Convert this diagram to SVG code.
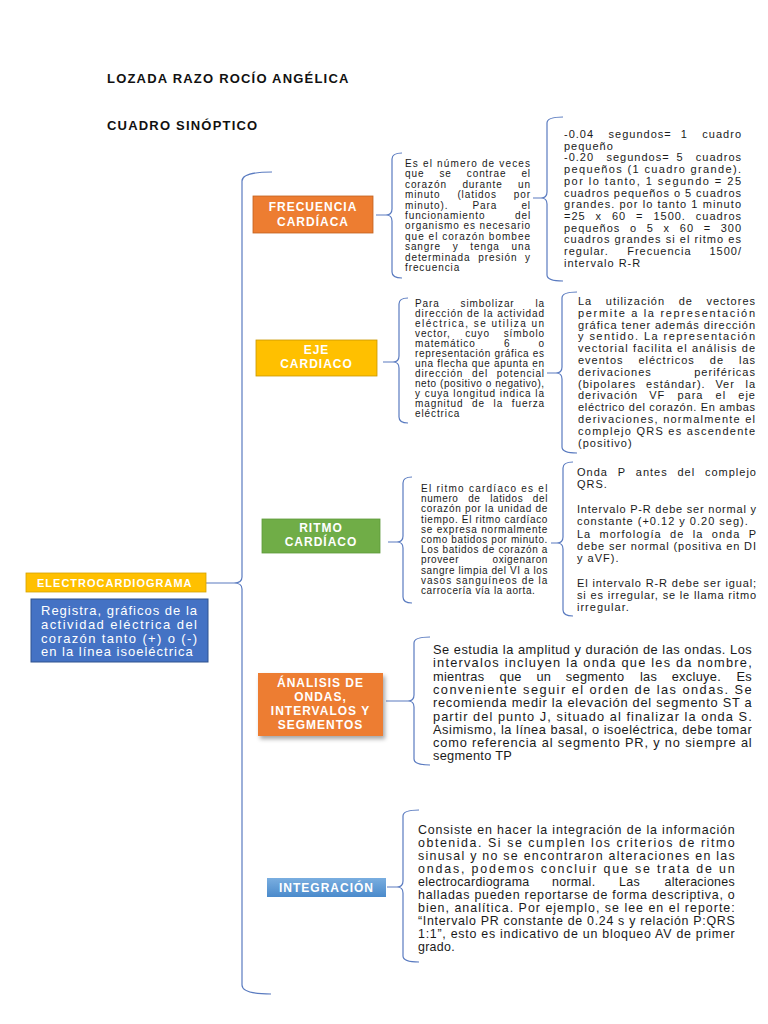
<svg xmlns="http://www.w3.org/2000/svg" width="768" height="1024" viewBox="0 0 768 1024">
<defs>
<linearGradient id="gInt" x1="0" y1="0" x2="0" y2="1">
<stop offset="0" stop-color="#7AAEE0"/>
<stop offset="1" stop-color="#4A8ACB"/>
</linearGradient>
<filter id="shadow" x="-10%" y="-10%" width="130%" height="140%">
<feDropShadow dx="2" dy="3" stdDeviation="2" flood-color="#000" flood-opacity="0.35"/>
</filter>
<style>
text{font-family:"Liberation Sans",Arial,sans-serif;fill:#1a1a1a}
.title{font-size:13px;font-weight:bold;letter-spacing:1.2px;fill:#111}
.cat{font-size:12px;font-weight:bold;letter-spacing:1px;fill:#fff;text-anchor:middle}
.ecg{font-size:11px;font-weight:bold;letter-spacing:1px;fill:#fff}
.bdesc{font-size:13px;letter-spacing:1px;fill:#fff}
.s10{font-size:10px;letter-spacing:0.9px}
.s10b{font-size:10px;letter-spacing:0.6px}
.s11{font-size:11px;letter-spacing:1px}
.s13{font-size:12.8px;letter-spacing:0.3px}
.s13b{font-size:12.4px;letter-spacing:0.3px}
.e{text-anchor:end}
.br{fill:none;stroke:#5A7BC0;stroke-width:1.2}
</style>
</defs>
<rect width="768" height="1024" fill="#fff"/>

<g id="titles">
<text class="title" x="107" y="83">LOZADA RAZO ROCÍO ANGÉLICA</text>
<text class="title" x="107" y="130">CUADRO SINÓPTICO</text>
</g>

<g id="connectors">
<path class="br" d="M272,172 Q242,172 242,181 V577 Q242,583 234,583 H206 M234,583 Q242,583 242,589 V985 Q242,994 271,994"/>
<path class="br" d="M402,153 Q392,153 392,159 V209 Q392,215 386,215 H376 M386,215 Q392,215 392,221 V272 Q392,278 402,278"/>
<path class="br" d="M563,117 Q547,117 547,123 V192 Q547,198 541,198 H533 M541,198 Q547,198 547,204 V275 Q547,281 563,281"/>
<path class="br" d="M408,298 Q399,298 399,304 V356 Q399,362 393,362 H383 M393,362 Q399,362 399,368 V417 Q399,423 408,423"/>
<path class="br" d="M577,292 Q562,292 562,298 V367 Q562,373 556,373 H547 M556,373 Q562,373 562,379 V447 Q562,453 577,453"/>
<path class="br" d="M412,477 Q403,477 403,483 V536 Q403,542 397,542 H388 M397,542 Q403,542 403,548 V597 Q403,603 412,603"/>
<path class="br" d="M573,462 Q563,462 563,468 V537 Q563,543 557,543 H551 M557,543 Q563,543 563,549 V610 Q563,616 573,616"/>
<path class="br" d="M430,637 Q414,637 414,643 V695 Q414,701 408,701 H386 M408,701 Q414,701 414,707 V759 Q414,765 430,765"/>
<path class="br" d="M419,810 Q403,810 403,816 V881 Q403,887 397,887 H387 M397,887 Q403,887 403,893 V956 Q403,962 419,962"/>
</g>

<g id="node-electrocardiograma">
<rect x="26" y="573" width="180" height="19" fill="#FFC000" stroke="#D4A200" stroke-width="0.8"/>
<text class="ecg" x="37" y="587">ELECTROCARDIOGRAMA</text>
</g>

<g id="node-registra">
<rect x="31" y="599" width="177" height="63" fill="#4472C4" stroke="#2F528F" stroke-width="1"/>
<text class="bdesc" x="41" y="615" textLength="157" lengthAdjust="spacing">Registra, gráficos de la</text>
<text class="bdesc" x="41" y="628.8" textLength="157" lengthAdjust="spacing">actividad eléctrica del</text>
<text class="bdesc" x="41" y="642.6" textLength="157" lengthAdjust="spacing">corazón tanto (+) o (-)</text>
<text class="bdesc" x="41" y="656.4">en la línea isoeléctrica</text>
</g>

<g id="node-frecuencia">
<rect x="253" y="196" width="120" height="37" fill="#ED7D31" stroke="#C0601F" stroke-width="0.8"/>
<text class="cat" x="313" y="211">FRECUENCIA</text>
<text class="cat" x="313" y="225.5">CARDÍACA</text>
</g>

<g id="node-frecuencia-def">
<text class="s10" x="405" y="167" textLength="126" lengthAdjust="spacing">Es el número de veces</text>
<text class="s10" x="405" y="177.4">que</text><text class="s10" x="439.4" y="177.4">se</text><text class="s10" x="466.8" y="177.4">contrae</text><text class="s10 e" x="531" y="177.4">el</text>
<text class="s10" x="405" y="187.8">corazón</text><text class="s10" x="462.4" y="187.8">durante</text><text class="s10 e" x="531" y="187.8">un</text>
<text class="s10" x="405" y="198.2">minuto</text><text class="s10" x="457.4" y="198.2">(latidos</text><text class="s10 e" x="531" y="198.2">por</text>
<text class="s10" x="405" y="208.6">minuto).</text><text class="s10" x="472.5" y="208.6">Para</text><text class="s10 e" x="531" y="208.6">el</text>
<text class="s10" x="405" y="219">funcionamiento</text><text class="s10 e" x="531" y="219">del</text>
<text class="s10" x="405" y="229.4" textLength="126" lengthAdjust="spacing">organismo es necesario</text>
<text class="s10" x="405" y="239.8" textLength="126" lengthAdjust="spacing">que el corazón bombee</text>
<text class="s10" x="405" y="250.2">sangre</text><text class="s10" x="452.7" y="250.2">y</text><text class="s10" x="470.3" y="250.2">tenga</text><text class="s10 e" x="531" y="250.2">una</text>
<text class="s10" x="405" y="260.6">determinada</text><text class="s10" x="478.3" y="260.6">presión</text><text class="s10 e" x="531" y="260.6">y</text>
<text class="s10" x="405" y="271">frecuencia</text>
</g>

<g id="node-frecuencia-calc">
<text class="s11" x="564" y="138">-0.04</text><text class="s11" x="608.6" y="138">segundos=</text><text class="s11" x="680.7" y="138">1</text><text class="s11 e" x="742" y="138">cuadro</text>
<text class="s11" x="564" y="149.7">pequeño</text>
<text class="s11" x="564" y="161.4">-0.20</text><text class="s11" x="606.5" y="161.4">segundos=</text><text class="s11" x="676.5" y="161.4">5</text><text class="s11 e" x="742" y="161.4">cuadros</text>
<text class="s11" x="564" y="173.1" textLength="178" lengthAdjust="spacing">pequeños (1 cuadro grande).</text>
<text class="s11" x="564" y="184.8" textLength="178" lengthAdjust="spacing">por lo tanto, 1 segundo = 25</text>
<text class="s11" x="564" y="196.5" textLength="178" lengthAdjust="spacing">cuadros pequeños o 5 cuadros</text>
<text class="s11" x="564" y="208.2" textLength="178" lengthAdjust="spacing">grandes. por lo tanto 1 minuto</text>
<text class="s11" x="564" y="219.9">=25</text><text class="s11" x="595.6" y="219.9">x</text><text class="s11" x="612" y="219.9">60</text><text class="s11" x="636.1" y="219.9">=</text><text class="s11" x="653.4" y="219.9">1500.</text><text class="s11 e" x="742" y="219.9">cuadros</text>
<text class="s11" x="564" y="231.6">pequeños</text><text class="s11" x="630" y="231.6">o</text><text class="s11" x="646.8" y="231.6">5</text><text class="s11" x="663.6" y="231.6">x</text><text class="s11" x="679.8" y="231.6">60</text><text class="s11" x="703.7" y="231.6">=</text><text class="s11 e" x="742" y="231.6">300</text>
<text class="s11" x="564" y="243.3" textLength="178" lengthAdjust="spacing">cuadros grandes si el ritmo es</text>
<text class="s11" x="564" y="255">regular.</text><text class="s11" x="627.2" y="255">Frecuencia</text><text class="s11 e" x="742" y="255">1500/</text>
<text class="s11" x="564" y="266.7">intervalo R-R</text>
</g>

<g id="node-eje">
<rect x="256" y="340" width="121" height="36" fill="#FFC000" stroke="#C99700" stroke-width="0.8"/>
<text class="cat" x="316.5" y="353.5">EJE</text>
<text class="cat" x="316.5" y="367.5">CARDIACO</text>
</g>

<g id="node-eje-def">
<text class="s10" x="415" y="307">Para</text><text class="s10" x="460.6" y="307">simbolizar</text><text class="s10 e" x="545" y="307">la</text>
<text class="s10" x="415" y="317" textLength="130" lengthAdjust="spacing">dirección de la actividad</text>
<text class="s10" x="415" y="327" textLength="130" lengthAdjust="spacing">eléctrica, se utiliza un</text>
<text class="s10" x="415" y="337">vector,</text><text class="s10" x="465.2" y="337">cuyo</text><text class="s10 e" x="545" y="337">símbolo</text>
<text class="s10" x="415" y="347">matemático</text><text class="s10" x="503.9" y="347">6</text><text class="s10 e" x="545" y="347">o</text>
<text class="s10" x="415" y="357" textLength="130" lengthAdjust="spacing">representación gráfica es</text>
<text class="s10" x="415" y="367" textLength="130" lengthAdjust="spacing">una flecha que apunta en</text>
<text class="s10" x="415" y="377">dirección</text><text class="s10" x="472" y="377">del</text><text class="s10 e" x="545" y="377">potencial</text>
<text class="s10" x="415" y="387" textLength="130" lengthAdjust="spacing">neto (positivo o negativo),</text>
<text class="s10" x="415" y="397" textLength="130" lengthAdjust="spacing">y cuya longitud indica la</text>
<text class="s10" x="415" y="407">magnitud</text><text class="s10" x="472" y="407">de</text><text class="s10" x="493.6" y="407">la</text><text class="s10 e" x="545" y="407">fuerza</text>
<text class="s10" x="415" y="417">eléctrica</text>
</g>

<g id="node-eje-vectores">
<text class="s11" x="578" y="305">La</text><text class="s11" x="605.8" y="305">utilización</text><text class="s11" x="678.7" y="305">de</text><text class="s11 e" x="756" y="305">vectores</text>
<text class="s11" x="578" y="316.8" textLength="178" lengthAdjust="spacing">permite a la representación</text>
<text class="s11" x="578" y="328.6" textLength="178" lengthAdjust="spacing">gráfica tener además dirección</text>
<text class="s11" x="578" y="340.4" textLength="178" lengthAdjust="spacing">y sentido. La representación</text>
<text class="s11" x="578" y="352.2" textLength="178" lengthAdjust="spacing">vectorial facilita el análisis de</text>
<text class="s11" x="578" y="364">eventos</text><text class="s11" x="638.4" y="364">eléctricos</text><text class="s11" x="709.8" y="364">de</text><text class="s11 e" x="756" y="364">las</text>
<text class="s11" x="578" y="375.8">derivaciones</text><text class="s11 e" x="756" y="375.8">periféricas</text>
<text class="s11" x="578" y="387.6">(bipolares</text><text class="s11" x="646.1" y="387.6">estándar).</text><text class="s11" x="715.4" y="387.6">Ver</text><text class="s11 e" x="756" y="387.6">la</text>
<text class="s11" x="578" y="399.4">derivación</text><text class="s11" x="649.2" y="399.4">VF</text><text class="s11" x="677.4" y="399.4">para</text><text class="s11" x="715.6" y="399.4">el</text><text class="s11 e" x="756" y="399.4">eje</text>
<text class="s11" x="578" y="411.2" textLength="178" lengthAdjust="spacing">eléctrico del corazón. En ambas</text>
<text class="s11" x="578" y="423" textLength="178" lengthAdjust="spacing">derivaciones, normalmente el</text>
<text class="s11" x="578" y="434.8" textLength="178" lengthAdjust="spacing">complejo QRS es ascendente</text>
<text class="s11" x="578" y="446.6">(positivo)</text>
</g>

<g id="node-ritmo">
<rect x="262" y="519" width="118" height="34" fill="#70AD47" stroke="#5E9A3A" stroke-width="0.8"/>
<text class="cat" x="321" y="532">RITMO</text>
<text class="cat" x="321" y="546">CARDÍACO</text>
</g>

<g id="node-ritmo-def">
<text class="s10b" x="421" y="492" textLength="127" lengthAdjust="spacing">El ritmo cardíaco es el</text>
<text class="s10b" x="421" y="502.2">numero</text><text class="s10b" x="468.2" y="502.2">de</text><text class="s10b" x="490.2" y="502.2">latidos</text><text class="s10b e" x="548" y="502.2">del</text>
<text class="s10b" x="421" y="512.4" textLength="127" lengthAdjust="spacing">corazón por la unidad de</text>
<text class="s10b" x="421" y="522.6" textLength="127" lengthAdjust="spacing">tiempo. El ritmo cardíaco</text>
<text class="s10b" x="421" y="532.8" textLength="127" lengthAdjust="spacing">se expresa normalmente</text>
<text class="s10b" x="421" y="543" textLength="127" lengthAdjust="spacing">como batidos por minuto.</text>
<text class="s10b" x="421" y="553.2" textLength="127" lengthAdjust="spacing">Los batidos de corazón a</text>
<text class="s10b" x="421" y="563.4">proveer</text><text class="s10b e" x="548" y="563.4">oxigenaron</text>
<text class="s10b" x="421" y="573.6" textLength="127" lengthAdjust="spacing">sangre limpia del VI a los</text>
<text class="s10b" x="421" y="583.8" textLength="127" lengthAdjust="spacing">vasos sanguíneos de la</text>
<text class="s10b" x="421" y="594">carrocería vía la aorta.</text>
</g>

<g id="node-ritmo-criterios">
<text class="s11" x="577" y="476">Onda</text><text class="s11" x="617.7" y="476">P</text><text class="s11" x="635.8" y="476">antes</text><text class="s11" x="677.5" y="476">del</text><text class="s11 e" x="757" y="476">complejo</text>
<text class="s11" x="577" y="488.3">QRS.</text>
<text class="s11" x="577" y="512.9" textLength="180" lengthAdjust="spacing">Intervalo P-R debe ser normal y</text>
<text class="s11" x="577" y="525.2">constante (+0.12 y 0.20 seg).</text>
<text class="s11" x="577" y="537.5">La</text><text class="s11" x="599.6" y="537.5">morfología</text><text class="s11" x="670.1" y="537.5">de</text><text class="s11" x="692.7" y="537.5">la</text><text class="s11" x="711.8" y="537.5">onda</text><text class="s11 e" x="757" y="537.5">P</text>
<text class="s11" x="577" y="549.8" textLength="180" lengthAdjust="spacing">debe ser normal (positiva en DI</text>
<text class="s11" x="577" y="562.1">y aVF).</text>
<text class="s11" x="577" y="586.7" textLength="180" lengthAdjust="spacing">El intervalo R-R debe ser igual;</text>
<text class="s11" x="577" y="599" textLength="180" lengthAdjust="spacing">si es irregular, se le llama ritmo</text>
<text class="s11" x="577" y="611.3">irregular.</text>
</g>

<g id="node-analisis">
<rect x="258" y="673" width="125" height="63" fill="#ED7D31" filter="url(#shadow)"/>
<text class="cat" x="320.5" y="687.3">ÁNALISIS DE</text>
<text class="cat" x="320.5" y="701.3">ONDAS,</text>
<text class="cat" x="320.5" y="715.3">INTERVALOS Y</text>
<text class="cat" x="320.5" y="729.3">SEGMENTOS</text>
</g>

<g id="node-analisis-def">
<text class="s13" x="433" y="654" textLength="319" lengthAdjust="spacing">Se estudia la amplitud y duración de las ondas. Los</text>
<text class="s13" x="433" y="667.3" textLength="319" lengthAdjust="spacing">intervalos incluyen la onda que les da nombre,</text>
<text class="s13" x="433" y="680.6">mientras</text><text class="s13" x="499.5" y="680.6">que</text><text class="s13" x="536.4" y="680.6">un</text><text class="s13" x="565.8" y="680.6">segmento</text><text class="s13" x="639.9" y="680.6">las</text><text class="s13" x="671.7" y="680.6">excluye.</text><text class="s13 e" x="752" y="680.6">Es</text>
<text class="s13" x="433" y="693.9" textLength="319" lengthAdjust="spacing">conveniente seguir el orden de las ondas. Se</text>
<text class="s13" x="433" y="707.2" textLength="319" lengthAdjust="spacing">recomienda medir la elevación del segmento ST a</text>
<text class="s13" x="433" y="720.5" textLength="319" lengthAdjust="spacing">partir del punto J, situado al finalizar la onda S.</text>
<text class="s13" x="433" y="733.8" textLength="319" lengthAdjust="spacing">Asimismo, la línea basal, o isoeléctrica, debe tomar</text>
<text class="s13" x="433" y="747.1" textLength="319" lengthAdjust="spacing">como referencia al segmento PR, y no siempre al</text>
<text class="s13" x="433" y="760.4">segmento TP</text>
</g>

<g id="node-integracion">
<rect x="267" y="878" width="119" height="19" fill="url(#gInt)"/>
<text class="cat" x="326.5" y="892">INTEGRACIÓN</text>
</g>

<g id="node-integracion-def">
<text class="s13b" x="418" y="834" textLength="317" lengthAdjust="spacing">Consiste en hacer la integración de la información</text>
<text class="s13b" x="418" y="847" textLength="317" lengthAdjust="spacing">obtenida. Si se cumplen los criterios de ritmo</text>
<text class="s13b" x="418" y="860" textLength="317" lengthAdjust="spacing">sinusal y no se encontraron alteraciones en las</text>
<text class="s13b" x="418" y="873" textLength="317" lengthAdjust="spacing">ondas, podemos concluir que se trata de un</text>
<text class="s13b" x="418" y="886">electrocardiograma</text><text class="s13b" x="552" y="886">normal.</text><text class="s13b" x="619" y="886">Las</text><text class="s13b e" x="735" y="886">alteraciones</text>
<text class="s13b" x="418" y="899" textLength="317" lengthAdjust="spacing">halladas pueden reportarse de forma descriptiva, o</text>
<text class="s13b" x="418" y="912" textLength="317" lengthAdjust="spacing">bien, analítica. Por ejemplo, se lee en el reporte:</text>
<text class="s13b" x="418" y="925" textLength="317" lengthAdjust="spacing">“Intervalo PR constante de 0.24 s y relación P:QRS</text>
<text class="s13b" x="418" y="938" textLength="317" lengthAdjust="spacing">1:1”, esto es indicativo de un bloqueo AV de primer</text>
<text class="s13b" x="418" y="951">grado.</text>
</g>
</svg>
